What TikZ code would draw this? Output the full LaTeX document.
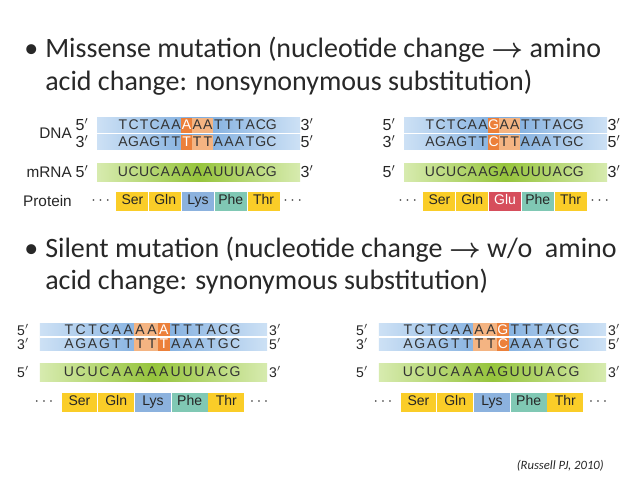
\documentclass[tikz,border=0pt]{standalone}
\usepackage{fontspec}
\setmainfont{Carlito}
\newfontfamily\arial{Liberation Sans}
\usepackage{amsmath}
\definecolor{dnaB}{RGB}{125,172,222}
\definecolor{dnaL}{RGB}{205,225,245}
\definecolor{rnaG}{RGB}{150,196,60}
\definecolor{rnaL}{RGB}{215,235,175}
\definecolor{orD}{RGB}{236,128,58}
\definecolor{orL}{RGB}{244,180,130}
\definecolor{pY}{RGB}{250,205,40}
\definecolor{pB}{RGB}{140,178,222}
\definecolor{pT}{RGB}{128,200,180}
\definecolor{pR}{RGB}{214,78,92}
\definecolor{txt}{RGB}{40,40,40}
\tikzset{
 base/.style={font=\arial\fontsize{10.5}{11}\selectfont, text=black!80, inner sep=0pt, text height=1.5ex, text depth=0pt},
 prime/.style={font=\arial\fontsize{\pfs}{\pfs}\selectfont, text=black!85, inner sep=0pt, text height=1.6ex, text depth=0pt},
 lab/.style={font=\arial\fontsize{11.5}{12}\selectfont, text=black!85, inner sep=0pt, anchor=east},
 aa/.style={font=\arial\fontsize{10.5}{11}\selectfont, text=black!85, inner sep=0pt, text height=1.5ex, text depth=0.3ex},
 dots/.style={font=\arial\bfseries\fontsize{13}{13}\selectfont, text=black!80, inner sep=0pt},
 bul/.style={font=\fontsize{21}{24}\selectfont, text=txt, anchor=base west, inner sep=0pt},
}
\newcommand\dnapanel[3]{%
\begin{scope}[shift={(#2,#3)}, xscale=\xs]
 \shade[left color=dnaL, right color=dnaL, middle color=dnaB] (15,-\bh) rectangle (218,\bh);
 \shade[left color=dnaL, right color=dnaL, middle color=dnaB] (15,\ytwo-\bh) rectangle (218,\ytwo+\bh);
 \fill[orL] ({41+10.6*5.5},-\bh) rectangle ({41+10.6*8.5},\bh);
 \fill[orL] ({41+10.6*5.5},\ytwo-\bh) rectangle ({41+10.6*8.5},\ytwo+\bh);
 \fill[orD] ({41+10.6*(\dk-0.5)},-\bh) rectangle ({41+10.6*(\dk+0.5)},\bh);
 \fill[orD] ({41+10.6*(\dk-0.5)},\ytwo-\bh) rectangle ({41+10.6*(\dk+0.5)},\ytwo+\bh);
 \draw[white, line width=0.8pt] (15,{\ytwo/2}) -- (218,{\ytwo/2});
 \shade[left color=rnaL, right color=rnaL, middle color=rnaG] (15,\ym-9) rectangle (218,\ym+9);
 \foreach \c [count=\i from 0] in \sa {\ifnum\i=\dk \node[base,text=white] (#1a\i) at ({41+10.6*\i},0) {\c};\else \node[base] (#1a\i) at ({41+10.6*\i},0) {\c};\fi}
 \foreach \c [count=\i from 0] in \sb {\ifnum\i=\dk \node[base,text=white] (#1b\i) at ({41+10.6*\i},\ytwo) {\c};\else \node[base] (#1b\i) at ({41+10.6*\i},\ytwo) {\c};\fi}
 \foreach \c [count=\i from 0] in \sm {\node[base] (#1m\i) at ({41+10.6*\i},\ym) {\c};}
 \node[prime] (#1p1) at (0,0) {5$'$};
 \node[prime] (#1p2) at (0,\ytwo) {3$'$};
 \node[prime] (#1p3) at (0,\ym) {5$'$};
 \node[prime] (#1p4) at (225,0) {3$'$};
 \node[prime] (#1p5) at (225,\ytwo) {5$'$};
 \node[prime] (#1p6) at (225,\ym) {3$'$};
 \foreach \n/\col [count=\i from 0] in \sp {
   \fill[\col] ({34+32.8*\i+0.4},\yp-9.5) rectangle ({34+32.8*(\i+1)-0.4},\yp+9.5);
   \ifx\col\redc \node[aa,text=white] (#1q\i) at ({34+32.8*(\i+0.5)},\yp) {\n};\else
   \node[aa] (#1q\i) at ({34+32.8*(\i+0.5)},\yp) {\n};\fi}
 \node[dots] (#1d1) at (20,\yp) {$\cdots$};
 \node[dots] (#1d2) at (212,\yp) {$\cdots$};
\end{scope}}
\def\redc{pR}
\begin{document}
\begin{tikzpicture}[x=0.75pt,y=-0.75pt]
\useasboundingbox[fill=white] (0,0) rectangle (638,479);
\node[bul] (b1) at (24,57) {\textbullet};
\node[bul] (t1) at (45,57) {Missense mutation (nucleotide change $\boldsymbol{\rightarrow}$ amino};
\node[bul] (t2) at (45,90) {acid change: nonsynonymous substitution)};
\node[bul] (b2) at (24,257) {\textbullet};
\node[bul] (t3) at (45,257) {Silent mutation (nucleotide change $\boldsymbol{\rightarrow}$ w/o\ \ amino};
\node[bul] (t4) at (45,289) {acid change: synonymous substitution)};
\node[font=\itshape\fontsize{9.5}{10}\selectfont, text=txt, anchor=east, inner sep=0pt] (cr) at (604,466) {(Russell PJ, 2010)};
\node[lab] (l1) at (72,133) {DNA};
\node[lab] (l2) at (72,172) {mRNA};
\node[lab] (l3) at (72,201) {Protein};
% top-left
\def\pfs{12}
\def\xs{1}\def\ytwo{17}\def\ym{47}\def\yp{76}\def\bh{7.5}\def\dk{6}
\def\sa{T,C,T,C,A,A,A,A,A,T,T,T,A,C,G}
\def\sb{A,G,A,G,T,T,T,T,T,A,A,A,T,G,C}
\def\sm{U,C,U,C,A,A,A,A,A,U,U,U,A,C,G}
\def\sp{Ser/pY,Gln/pY,Lys/pB,Phe/pT,Thr/pY}
\dnapanel{A}{82}{125}
% top-right
\def\sa{T,C,T,C,A,A,G,A,A,T,T,T,A,C,G}
\def\sb{A,G,A,G,T,T,C,T,T,A,A,A,T,G,C}
\def\sm{U,C,U,C,A,A,G,A,A,U,U,U,A,C,G}
\def\sp{Ser/pY,Gln/pY,Glu/pR,Phe/pT,Thr/pY}
\dnapanel{B}{389}{125}
% bottom-left
\def\pfs{10.5}
\def\xs{1.12}\def\ytwo{14}\def\ym{42}\def\yp{72}\def\bh{6.6}\def\dk{8}
\def\sa{T,C,T,C,A,A,A,A,A,T,T,T,A,C,G}
\def\sb{A,G,A,G,T,T,T,T,T,A,A,A,T,G,C}
\def\sm{U,C,U,C,A,A,A,A,A,U,U,U,A,C,G}
\def\sp{Ser/pY,Gln/pY,Lys/pB,Phe/pT,Thr/pY}
\dnapanel{C}{23}{330}
% bottom-right
\def\sa{T,C,T,C,A,A,A,A,G,T,T,T,A,C,G}
\def\sb{A,G,A,G,T,T,T,T,C,A,A,A,T,G,C}
\def\sm{U,C,U,C,A,A,A,A,G,U,U,U,A,C,G}
\dnapanel{D}{362}{330}
\end{tikzpicture}
\end{document}
